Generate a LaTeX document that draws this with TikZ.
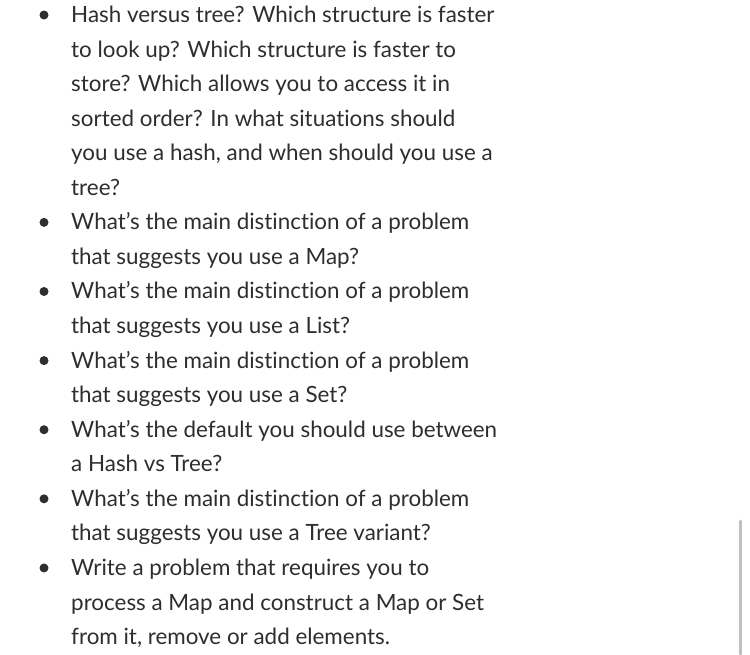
\documentclass[tikz,border=0pt]{standalone}
\usepackage{fontspec}
\setmainfont[Ligatures=NoCommon]{Lato}
\newcommand\myap{\char39\relax}
\begin{document}
\begin{tikzpicture}[x=1pt,y=-1pt,
  ln/.style={anchor=base west,inner sep=0pt,font=\fontsize{22.4}{26}\selectfont,text=black!82},
  bul/.style={circle,fill=black!82,inner sep=0pt,minimum size=9pt}]
\useasboundingbox[fill=white] (0,0) rectangle (750,654);
\def\dy{34.56}
\foreach \i/\t in {0/{Hash versus tree? Which structure is faster},
 1/{to look up? Which structure is faster to},
 2/{store? Which allows you to access it in},
 3/{sorted order? In what situations should},
 4/{you use a hash, and when should you use a},
 5/{tree?},
 6/{What\myap s the main distinction of a problem},
 7/{that suggests you use a Map?},
 8/{What\myap s the main distinction of a problem},
 9/{that suggests you use a List?},
 10/{What\myap s the main distinction of a problem},
 11/{that suggests you use a Set?},
 12/{What\myap s the default you should use between},
 13/{a Hash vs Tree?},
 14/{What\myap s the main distinction of a problem},
 15/{that suggests you use a Tree variant?},
 16/{Write a problem that requires you to},
 17/{process a Map and construct a Map or Set},
 18/{from it, remove or add elements.}}
  \node[ln] (l\i) at (71,{22.5+\i*\dy}) {\t};
\foreach \i in {0,6,8,10,12,14,16}
  \node[bul] (b\i) at (44,{15+\i*\dy}) {};
\draw[line width=3pt,black!25,line cap=round] (740,521) -- (740,654);
\end{tikzpicture}
\end{document}
